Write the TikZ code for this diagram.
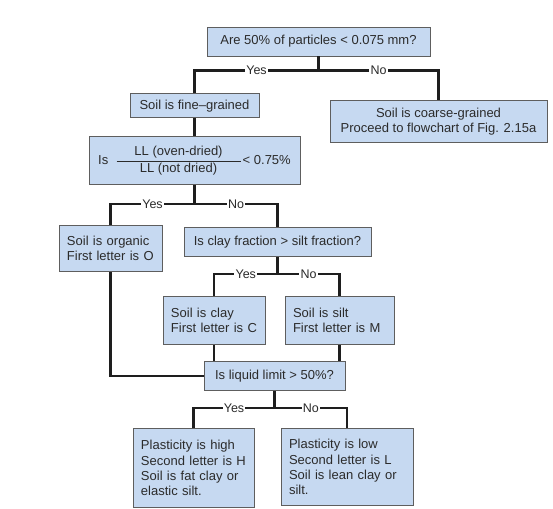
\documentclass[tikz,border=0pt]{standalone}
\usepackage{amsmath}
\usepackage{fontspec}
\setmainfont{Liberation Sans}
\usetikzlibrary{positioning,calc}
\definecolor{boxFill}{HTML}{C6D9F1}
\definecolor{boxEdge}{HTML}{5E5E5E}
\definecolor{ink}{HTML}{2B2B2B}
\definecolor{wireC}{HTML}{1E1E1E}

\begin{document}
\begin{tikzpicture}[
  box/.style={draw=boxEdge,fill=boxFill,line width=0.9pt,inner sep=0pt,align=center,font=\fontsize{13}{15.3}\selectfont,text=ink},
  lbox/.style={box,align=left,inner xsep=8pt},
  wire/.style={line width=2.2pt,color=wireC},
  lbl/.style={fill=white,inner sep=1.2pt,font=\fontsize{12.5}{14}\selectfont,text=ink}
]
  \fill[white] (-318.5pt,41.5pt) rectangle ++(553pt,-508pt);
  \node[box,minimum width=223pt,minimum height=29pt] (q1) at (0,0) {Are 50\% of particles < 0.075 mm?};
  \node[box,minimum width=129pt,minimum height=24pt,below=37pt of q1,xshift=-124pt] (fine) {Soil is fine--grained};
  \node[box,minimum width=217pt,minimum height=42pt,below=44pt of q1,xshift=120pt] (coarse) {Soil is coarse-grained\\Proceed to flowchart of Fig. 2.15a};
  \node[box,minimum width=211pt,minimum height=48pt,below=18pt of fine] (ratio) {Is\hspace{7pt}$\dfrac{\makebox[124pt]{LL (oven-dried)}}{\makebox[124pt]{LL (not dried)}}$\hspace{1pt}< 0.75\%};
  \node[lbox,text width=87pt,minimum height=46pt,below=40pt of ratio,xshift=-84pt] (organic) {Soil is organic\\First letter is O};
  \node[box,minimum width=187pt,minimum height=29pt,below=42pt of ratio,xshift=83pt] (clayq) {Is clay fraction > silt fraction?};
  \node[lbox,text width=86pt,minimum height=48pt,below=39pt of clayq,xshift=-63.5pt] (clay) {Soil is clay\\First letter is C};
  \node[lbox,text width=93pt,minimum height=48pt,below=39pt of clayq,xshift=62pt] (silt) {Soil is silt\\First letter is M};
  \node[box,minimum width=141pt,minimum height=29pt,below=104pt of clayq,xshift=-3pt] (llq) {Is liquid limit > 50\%?};
  \node[lbox,text width=105pt,minimum height=79pt,below=37pt of llq,xshift=-81pt] (high) {Plasticity is high\\Second letter is H\\Soil is fat clay or\\elastic silt.};
  \node[lbox,text width=116pt,minimum height=77pt,below=37pt of llq,xshift=72.5pt] (low) {Plasticity is low\\Second letter is L\\Soil is lean clay or\\silt.};

  % branch points
  \coordinate[below=14pt of q1] (f1);
  \coordinate[below=19pt of ratio] (f2);
  \coordinate[below=17pt of clayq] (f3);
  \coordinate[below=17pt of llq] (f4);

  \draw[wire] (q1.south) -- (f1);
  \draw[wire] (fine.north) |- node[lbl,pos=0.75]{Yes} (f1) -| node[lbl,pos=0.25]{No} (coarse.north);
  \draw[wire] (fine) -- (ratio);
  \draw[wire] (ratio.south) -- (f2);
  \draw[wire] (organic.north) |- node[lbl,pos=0.75]{Yes} (f2) -| node[lbl,pos=0.25]{No} (clayq.north);
  \draw[wire] (clayq.south) -- (f3);
  \draw[wire] (clay.north) |- node[lbl,pos=0.75]{Yes} (f3) -| node[lbl,pos=0.25]{No} (silt.north);
  \draw[wire] (clay.south) -- (clay.south |- llq.north);
  \draw[wire] (silt.south) -- (silt.south |- llq.north);
  \draw[wire] (organic.south) |- (llq.west);
  \draw[wire] (llq.south) -- (f4);
  \draw[wire] (high.north) |- node[lbl,pos=0.75]{Yes} (f4) -| node[lbl,pos=0.25]{No} (low.north);
\end{tikzpicture}
\end{document}
